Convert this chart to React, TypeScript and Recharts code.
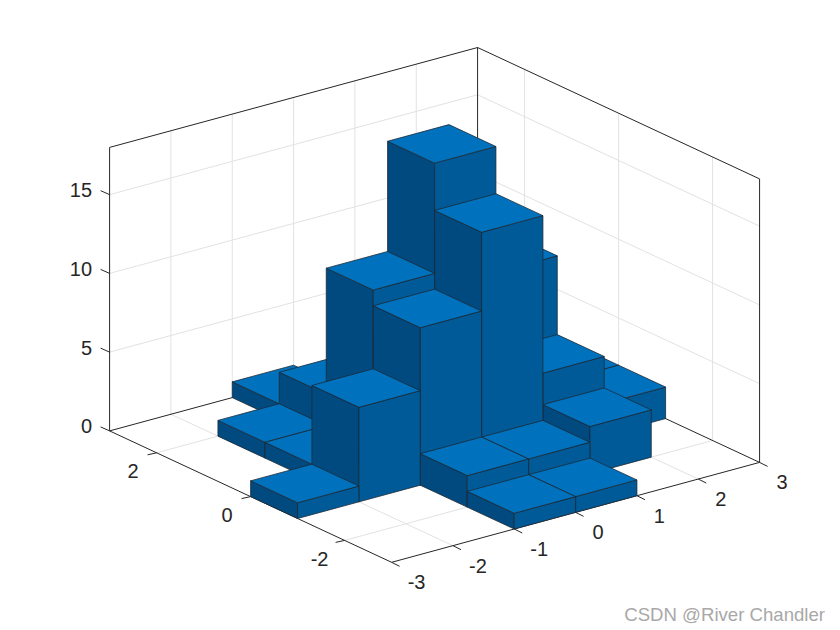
import { ScatterChart, Scatter, XAxis, YAxis } from "recharts";

// bin counts, one array per y bin (front to back), six x bins each
const countsY0 = [0, 0, 1, 1, 0, 0];
const countsY1 = [0, 0, 2, 2, 3, 0];
const countsY2 = [1, 6, 10, 15, 5, 2];
const countsY3 = [0, 1, 11, 18, 10, 2];
const countsY4 = [0, 1, 3, 4, 2, 0];
const countsY5 = [0, 0, 1, 0, 0, 0];
const rows = [countsY0, countsY1, countsY2, countsY3, countsY4, countsY5];

const xEdges = [-3, -2, -1, 0, 1, 2, 3];
const yEdges = [-3, -2, -1, 0, 1, 2, 3];
const xTicks = [-3, -2, -1, 0, 1, 2, 3];
const yTicks = [-2, 0, 2];
const zTicks = [0, 5, 10, 15];
const zMax = 18;

const TOP = "#0072bd";
const SIDE_LEFT = "#004a7f";
const SIDE_RIGHT = "#005a97";
const EDGE = "#1d2a36";
const GRID = "#e2e2e2";
const BOX = "#262626";
const TEXT = "#262626";

type Pt = { x: number; y: number; label?: string };

// fixed MATLAB-style view, data units to page pixels
const project = (x: number, y: number, z: number): Pt => ({
  x: 391.6 + (x + 3) * 61.33 - (y + 3) * 47,
  y: 562.3 - (x + 3) * 16.65 - (y + 3) * 21.9 - z * 15.75,
});

const shift = (p: Pt, dx: number, dy: number, label: string): Pt => ({
  x: p.x + dx,
  y: p.y + dy,
  label,
});

const noDot = () => <g />;

const Seg = (key: string, pts: Pt[], stroke: string, width: number) => (
  <Scatter
    key={key}
    data={pts}
    dataKey="y"
    shape={noDot}
    line={{ stroke, strokeWidth: width, fill: "none" }}
    isAnimationActive={false}
  />
);

const Face = (key: string, pts: Pt[], fill: string) => (
  <Scatter
    key={key}
    data={pts}
    dataKey="y"
    shape={noDot}
    line={{ fill, stroke: EDGE, strokeWidth: 0.8, strokeLinejoin: "round" }}
    lineJointType="linearClosed"
    isAnimationActive={false}
  />
);

const labelShape =
  (anchor: string, size: number, color: string, family: string) => (props: any) => (
    <text
      x={props.cx}
      y={props.cy}
      textAnchor={anchor}
      dominantBaseline="central"
      fontSize={size}
      fill={color}
      fontFamily={family}
    >
      {props.payload.label}
    </text>
  );

const Labels = (key: string, pts: Pt[], anchor: string, size = 20, color = TEXT, family = "'Liberation Sans', Arial") => (
  <Scatter
    key={key}
    data={pts}
    dataKey="y"
    shape={labelShape(anchor, size, color, family)}
    isAnimationActive={false}
  />
);

const X0 = xEdges[0];
const X1 = xEdges[xEdges.length - 1];
const Y0 = yEdges[0];
const Y1 = yEdges[yEdges.length - 1];

function walls() {
  const out = [];
  xTicks.forEach((t) => {
    if (t === X0 || t === X1) return;
    out.push(Seg(`gx${t}`, [project(t, Y0, 0), project(t, Y1, 0)], GRID, 1));
    out.push(Seg(`wx${t}`, [project(t, Y1, 0), project(t, Y1, zMax)], GRID, 1));
  });
  yTicks.forEach((t) => {
    out.push(Seg(`gy${t}`, [project(X0, t, 0), project(X1, t, 0)], GRID, 1));
    out.push(Seg(`wy${t}`, [project(X1, t, 0), project(X1, t, zMax)], GRID, 1));
  });
  zTicks.slice(1).forEach((t) => {
    out.push(Seg(`zl${t}`, [project(X0, Y1, t), project(X1, Y1, t)], GRID, 1));
    out.push(Seg(`zr${t}`, [project(X1, Y1, t), project(X1, Y0, t)], GRID, 1));
  });
  return out;
}

function box() {
  const c = [
    [project(X0, Y1, 0), project(X1, Y1, 0)],
    [project(X1, Y1, 0), project(X1, Y0, 0)],
    [project(X0, Y1, 0), project(X0, Y1, zMax)],
    [project(X1, Y1, 0), project(X1, Y1, zMax)],
    [project(X1, Y0, 0), project(X1, Y0, zMax)],
    [project(X0, Y1, zMax), project(X1, Y1, zMax)],
    [project(X1, Y1, zMax), project(X1, Y0, zMax)],
    [project(X0, Y0, 0), project(X0, Y1, 0)],
    [project(X0, Y0, 0), project(X1, Y0, 0)],
  ];
  const out = c.map((pts, i) => Seg(`box${i}`, pts, BOX, 1));
  xTicks.forEach((t) => {
    const p = project(t, Y0, 0);
    out.push(Seg(`tx${t}`, [p, shift(p, 8, 4, "")], BOX, 1));
  });
  yTicks.forEach((t) => {
    const p = project(X0, t, 0);
    out.push(Seg(`ty${t}`, [p, shift(p, -9, 2, "")], BOX, 1));
  });
  zTicks.forEach((t) => {
    const p = project(X0, Y1, t);
    out.push(Seg(`tz${t}`, [p, shift(p, -9, -4, "")], BOX, 1));
  });
  return out;
}

// painter's order: far bins first
function bars() {
  const out = [];
  for (let i = 5; i >= 0; i--) {
    for (let j = 5; j >= 0; j--) {
      const h = rows[j][i];
      if (!h) continue;
      const x0 = xEdges[i];
      const x1 = xEdges[i + 1];
      const y0 = yEdges[j];
      const y1 = yEdges[j + 1];
      out.push(
        Face(`l${i}${j}`, [project(x0, y0, 0), project(x0, y1, 0), project(x0, y1, h), project(x0, y0, h)], SIDE_LEFT),
      );
      out.push(
        Face(`r${i}${j}`, [project(x0, y0, 0), project(x1, y0, 0), project(x1, y0, h), project(x0, y0, h)], SIDE_RIGHT),
      );
      out.push(
        Face(`t${i}${j}`, [project(x0, y0, h), project(x1, y0, h), project(x1, y1, h), project(x0, y1, h)], TOP),
      );
    }
  }
  return out;
}

const xLabels = xTicks.map((t) => shift(project(t, Y0, 0), t < 0 ? 25 : 22.5, 20, String(t)));
const yLabels = yTicks.map((t) => shift(project(X0, t, 0), t < 0 ? -25 : -23.5, 18.5, String(t)));
const zLabels = zTicks.map((t) => shift(project(X0, Y1, t), -17.5, -4.5, String(t)));
const watermark = [{ x: 825, y: 614, label: "CSDN @River Chandler" }];

export default function App() {
  return (
    <div style={{ position: "absolute", left: 0, top: 0, width: 840, height: 630, background: "#fff" }}>
      <ScatterChart width={840} height={630} margin={{ top: 0, right: 0, bottom: 0, left: 0 }}>
        <XAxis type="number" dataKey="x" domain={[0, 840]} allowDataOverflow hide />
        <YAxis type="number" dataKey="y" domain={[0, 630]} reversed allowDataOverflow hide />
        {walls()}
        {box()}
        {bars()}
        {Labels("xl", xLabels, "middle")}
        {Labels("yl", yLabels, "middle")}
        {Labels("zl", zLabels, "end")}
        {Labels("wm", watermark, "end", 18.6, "#a8a8a8", "'Liberation Sans', Arial")}
      </ScatterChart>
    </div>
  );
}
